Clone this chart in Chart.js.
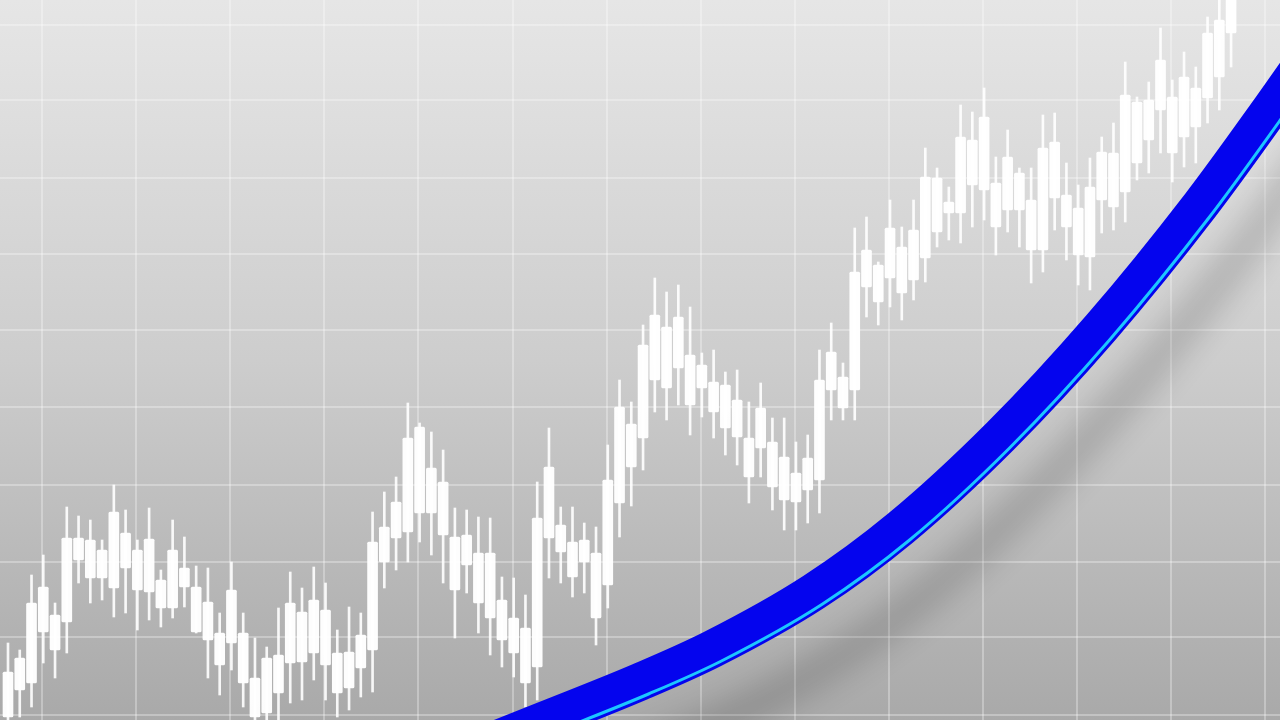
<!DOCTYPE html>
<html>
<head>
<meta charset="utf-8">
<script src="https://cdn.jsdelivr.net/npm/chart.js@4.4.1/dist/chart.umd.min.js"></script>
<style>
  html, body { margin: 0; padding: 0; background: #c8c8c8; overflow: hidden; }
  #wrap { width: 1280px; height: 720px; }
  canvas { display: block; }
</style>
</head>
<body>
<div id="wrap"><canvas id="c" width="1280" height="720"></canvas></div>
<script>
// ---- Candles (index = session number, prices in arbitrary units) ----
const candleOpen = [
  0.3, 3.0, 3.7, 8.8, 7.0, 9.8, 16.0, 14.2, 14.2, 13.2,
  15.2, 13.0, 12.8, 11.2, 11.2, 13.3, 8.8, 8.0, 5.5, 7.7,
  3.7, 0.3, 0.7, 2.7, 5.7, 5.8, 6.7, 5.5, 2.7, 3.2,
  5.2, 7.0, 15.8, 18.2, 18.8, 20.7, 20.7, 18.5, 13.0, 15.5,
  11.7, 10.2, 8.0, 6.7, 3.7, 5.3, 18.2, 16.8, 14.3, 15.8,
  10.2, 13.5, 21.7, 25.3, 28.2, 34.0, 33.2, 35.2, 31.5, 33.2,
  30.8, 29.2, 28.3, 24.3, 27.2, 23.3, 22.0, 21.8, 23.0, 24.0,
  33.0, 31.2, 33.0, 43.3, 41.8, 44.2, 42.7, 44.0, 46.2, 48.8,
  50.7, 50.7, 53.5, 53.0, 49.3, 51.0, 51.0, 47.0, 47.0, 52.2,
  49.3, 46.5, 46.3, 52.0, 51.3, 52.8, 55.7, 58.0, 61.0, 56.7,
  58.3, 59.3, 62.2, 64.3, 68.7
];
const candleClose = [
  4.8, 6.2, 11.7, 13.3, 10.5, 18.2, 18.2, 18.0, 17.0, 20.8,
  18.7, 17.0, 18.1, 14.0, 17.0, 15.2, 13.3, 11.8, 8.7, 13.0,
  8.7, 4.2, 6.2, 6.5, 11.7, 10.8, 12.0, 11.0, 6.7, 6.8,
  8.5, 17.8, 19.3, 21.8, 28.2, 29.3, 25.2, 23.8, 18.3, 18.5,
  16.7, 16.7, 12.0, 10.2, 9.2, 20.2, 25.3, 19.5, 17.8, 18.0,
  16.7, 24.0, 31.3, 29.6, 37.5, 40.5, 39.3, 40.3, 36.5, 35.5,
  33.8, 33.5, 32.0, 28.2, 31.2, 27.8, 26.3, 24.7, 26.2, 34.0,
  36.8, 34.3, 44.8, 47.0, 45.5, 49.2, 47.3, 49.0, 54.3, 54.2,
  51.8, 58.3, 58.0, 60.3, 53.7, 56.3, 54.7, 52.0, 57.2, 57.8,
  52.5, 51.2, 53.3, 56.8, 56.7, 62.5, 61.8, 62.0, 66.0, 62.3,
  64.3, 63.2, 68.7, 70.0, 74.0
];
const candleHigh = [
  7.7, 7.0, 14.5, 16.5, 11.7, 21.3, 20.4, 20.0, 18.0, 23.5,
  21.0, 18.0, 21.2, 15.0, 20.0, 18.3, 15.4, 15.2, 10.7, 15.8,
  10.7, 8.2, 7.3, 11.2, 14.8, 13.2, 15.3, 13.7, 9.0, 11.3,
  10.7, 20.8, 22.8, 24.3, 31.7, 29.7, 28.8, 27.0, 21.2, 21.0,
  20.3, 20.2, 14.3, 14.2, 12.5, 23.8, 29.2, 21.3, 21.3, 19.7,
  19.3, 27.5, 34.0, 31.8, 39.5, 44.2, 42.8, 43.5, 41.3, 36.7,
  37.0, 34.8, 35.0, 31.8, 33.7, 30.2, 30.2, 27.8, 28.5, 37.0,
  39.7, 35.7, 49.2, 50.3, 45.8, 52.0, 49.3, 52.0, 57.2, 55.2,
  53.3, 61.5, 60.8, 63.2, 56.3, 59.0, 55.2, 55.2, 60.5, 60.7,
  55.7, 53.5, 56.2, 58.3, 59.7, 65.8, 62.3, 63.8, 69.2, 64.0,
  66.8, 65.3, 70.3, 74.0, 76.0
];
const candleLow = [
  -1.0, 0.3, 1.3, 5.7, 4.2, 6.7, 13.7, 11.7, 12.0, 10.3,
  10.7, 9.0, 10.0, 9.3, 10.2, 11.3, 8.7, 4.2, 2.5, 5.0,
  1.3, -1.0, -1.0, -1.0, 1.7, 2.0, 4.0, 2.0, 0.3, 1.0,
  2.3, 2.8, 13.2, 15.0, 15.8, 17.8, 16.5, 13.7, 8.2, 12.7,
  8.7, 6.5, 5.3, 4.3, 1.3, 2.0, 14.2, 13.7, 12.3, 12.7,
  7.5, 11.2, 18.3, 21.4, 25.0, 30.8, 30.0, 31.5, 28.5, 30.3,
  28.2, 26.5, 25.5, 21.7, 24.3, 21.0, 19.0, 19.0, 19.7, 20.7,
  30.0, 30.0, 30.0, 40.3, 39.5, 41.3, 40.0, 42.0, 43.8, 47.3,
  48.0, 47.7, 49.3, 50.0, 46.5, 48.8, 47.3, 43.7, 44.8, 49.0,
  46.0, 43.5, 43.0, 48.7, 49.0, 49.8, 54.0, 54.7, 56.7, 53.8,
  55.3, 55.7, 59.7, 61.0, 65.3
];

// ---- Exponential trend curve (session index, price) ----
const trendX = [38.4, 45.7, 53.7, 59.9, 68.5, 75.9, 84.4, 92.9, 101.4, 107.3, 111.6];
const trendY = [-3.4, 0.0, 3.8, 7.1, 12.8, 19.2, 28.4, 39.2, 51.5, 61.0, 68.2];

// ---- Grid tick values ----
const xGridTicks = [2.9, 10.9, 18.9, 26.9, 34.9, 42.9, 50.9, 58.9, 66.9, 74.9, 82.9, 90.9, 98.9, 106.9];
const yGridTicks = [0.5, 8.3, 15.8, 23.5, 31.3, 39.0, 46.6, 54.2, 62.0, 69.5];

// ---- Axis ranges ----
const xMin = -0.68, xMax = 108.16;
const yMin = 0, yMax = 72;

const bodies = candleOpen.map((o, i) => ({ x: i, y: [o, candleClose[i]] }));
const wicks = candleLow.map((l, i) => ({ x: i, y: [l, candleHigh[i]] }));
const trend = trendX.map((x, i) => ({ x: x, y: trendY[i] }));

const bgPlugin = {
  id: 'bg',
  beforeDraw(chart) {
    const { ctx, width, height } = chart;
    const g = ctx.createLinearGradient(0, 0, 0, height);
    g.addColorStop(0, '#e6e6e6');
    g.addColorStop(0.5, '#cdcdcd');
    g.addColorStop(1, '#a9a9a9');
    ctx.save();
    ctx.fillStyle = g;
    ctx.fillRect(0, 0, width, height);
    ctx.restore();
  }
};

const fxPlugin = {
  id: 'fx',
  beforeDatasetDraw(chart, args) {
    const ds = chart.data.datasets[args.index];
    const ctx = chart.ctx;
    ctx.save();
    if (ds.fxShadow) {
      ctx.shadowColor = 'rgba(0,0,0,0.14)';
      ctx.shadowBlur = 28;
      ctx.shadowOffsetX = 30;
      ctx.shadowOffsetY = 62;
    }
    if (ds.fxShift) {
      ctx.translate(ds.fxShift[0], ds.fxShift[1]);
    }
  },
  afterDatasetDraw(chart) {
    chart.ctx.restore();
  }
};

new Chart(document.getElementById('c'), {
  data: {
    datasets: [
      {
        type: 'line',
        data: trend,
        borderColor: '#1cc6ff',
        borderWidth: 3,
        pointRadius: 0,
        cubicInterpolationMode: 'monotone',
        fill: false,
        fxShift: [9, 12],
        order: 0
      },
      {
        type: 'line',
        data: trend,
        borderColor: '#0404ee',
        borderWidth: 38,
        pointRadius: 0,
        cubicInterpolationMode: 'monotone',
        fill: false,
        fxShadow: true,
        order: 1
      },
      {
        type: 'bar',
        data: bodies,
        backgroundColor: 'rgba(255,255,255,0.97)',
        borderWidth: 0,
        borderSkipped: false,
        borderRadius: 1.5,
        barThickness: 10,
        grouped: false,
        order: 2
      },
      {
        type: 'bar',
        data: wicks,
        backgroundColor: 'rgba(255,255,255,0.9)',
        borderWidth: 0,
        borderSkipped: false,
        barThickness: 2,
        grouped: false,
        order: 3
      }
    ]
  },
  options: {
    responsive: false,
    animation: false,
    devicePixelRatio: 1,
    layout: { padding: 0 },
    plugins: { legend: { display: false }, tooltip: { enabled: false } },
    scales: {
      x: {
        type: 'linear',
        offset: false,
        min: xMin,
        max: xMax,
        afterBuildTicks: (s) => { s.ticks = xGridTicks.map(v => ({ value: v })); },
        ticks: { display: false },
        grid: { color: 'rgba(255,255,255,0.3)', lineWidth: 2, drawTicks: false, offset: false },
        border: { display: false }
      },
      y: {
        type: 'linear',
        min: yMin,
        max: yMax,
        afterBuildTicks: (s) => { s.ticks = yGridTicks.map(v => ({ value: v })); },
        ticks: { display: false },
        grid: { color: 'rgba(255,255,255,0.3)', lineWidth: 2, drawTicks: false },
        border: { display: false }
      }
    }
  },
  plugins: [bgPlugin, fxPlugin]
});
</script>
</body>
</html>
